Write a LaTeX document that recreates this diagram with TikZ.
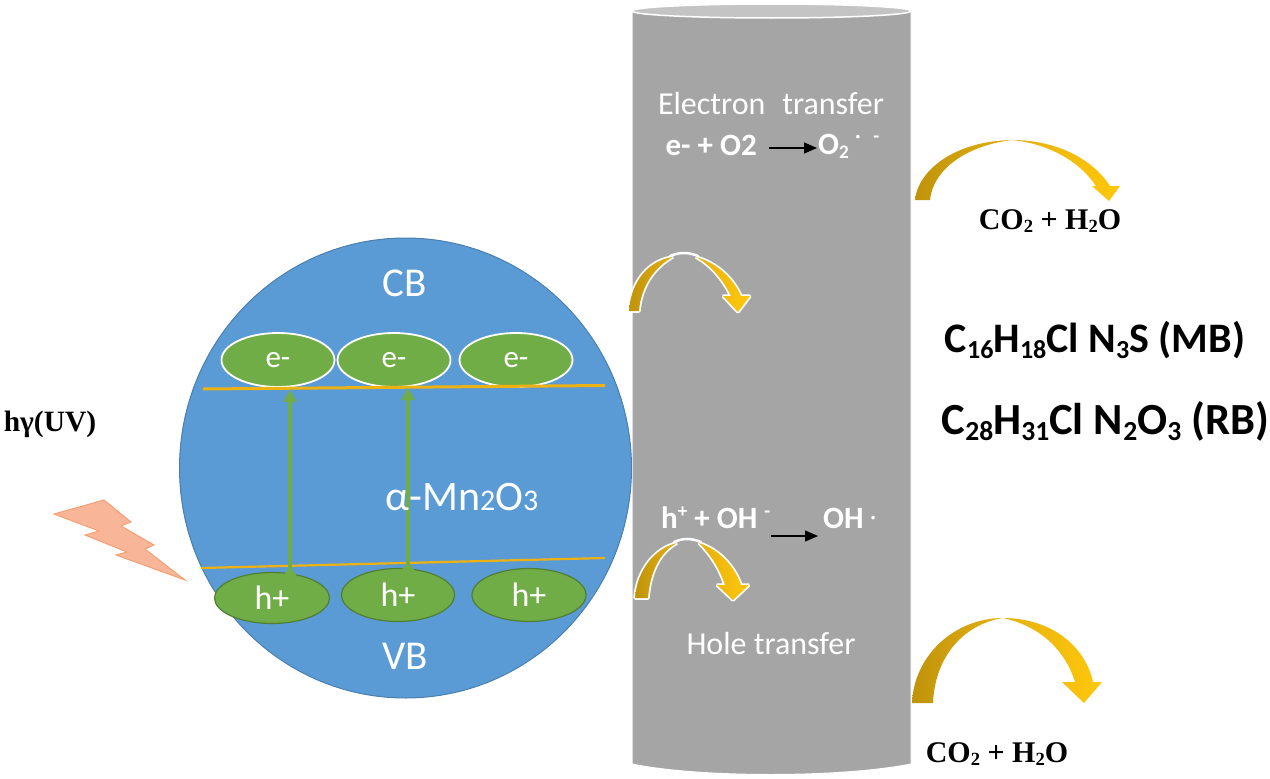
\documentclass[tikz,border=0pt]{standalone}
\usepackage{fontspec}
\setmainfont{Liberation Serif}
\setsansfont{Carlito}
\usetikzlibrary{arrows.meta,shapes.geometric}
\definecolor{ballblue}{HTML}{5B9BD5}
\definecolor{balledge}{HTML}{4A7FAE}
\definecolor{greenfill}{HTML}{70AD47}
\definecolor{greenedge}{HTML}{507E32}
\definecolor{bandline}{HTML}{EDB111}
\definecolor{tubegray}{HTML}{A5A5A5}
\definecolor{tubetop}{HTML}{C4C4C4}
\definecolor{golddark}{HTML}{BF930A}
\definecolor{goldmid}{HTML}{E5B012}
\definecolor{goldlight}{HTML}{FFC80A}
\definecolor{boltfill}{HTML}{F8B598}
\definecolor{boltedge}{HTML}{F4A074}
\newcommand{\subs}[1]{\raisebox{-0.28ex}{\scalebox{0.62}{#1}}}
\newcommand{\sups}[1]{\raisebox{0.75ex}{\scalebox{0.62}{#1}}}
\tikzset{
  x=1pt,y=-1pt,
  electron/.style={ellipse,draw=white,line width=1.8pt,fill=greenfill,text=white,inner sep=0pt,minimum width=113,minimum height=54,font=\sffamily\fontsize{31}{36}\selectfont},
  hole/.style={ellipse,draw=greenedge,line width=1.2pt,fill=greenfill,text=white,inner sep=0pt,font=\sffamily\fontsize{34}{40}\selectfont},
  whitelabel/.style={text=white,inner sep=0pt,font=\sffamily\fontsize{41}{48}\selectfont},
  graylabel/.style={text=white,inner sep=0pt,font=\sffamily\fontsize{32}{38}\selectfont},
  eqlabel/.style={text=white,inner sep=0pt,font=\sffamily\bfseries\fontsize{31}{36}\selectfont},
  product/.style={text=black,inner sep=0pt,font=\rmfamily\bfseries\fontsize{30}{34}\selectfont},
  formula/.style={text=black,inner sep=0pt,font=\sffamily\bfseries\fontsize{42}{48}\selectfont},
  bandtop/.style={draw=bandline,line width=3pt},
  bandlow/.style={draw=bandline,line width=2.2pt},
  excite/.style={draw=greenfill,line width=3.2pt,{Triangle[reversed,length=10pt,width=13pt]}-{Triangle[length=12pt,width=13pt]}},
  react/.style={draw=black,line width=1.2pt,-{Triangle[length=13pt,width=11pt]}},
  goldrise/.style={left color=golddark,right color=goldmid},
  goldfall/.style={left color=goldmid,right color=goldlight},
  rim/.style={preaction={draw=white,line width=3.5pt,line join=bevel}},
  rimtop/.style={draw=white,line width=2.5pt,line cap=round},
}
\begin{document}
\begin{tikzpicture}
\useasboundingbox (0,0) rectangle (1270,779);
% cylinder
\path[fill=tubegray,draw=white,line width=1pt] (632,11) -- (632,764) .. controls (700,778) and (840,778) .. (911,764) -- (911,11) -- cycle;
\path[fill=tubetop,draw=white,line width=1.5pt] (771.5,11) ellipse (139.5 and 7);
% ball
\node[ellipse,draw=balledge,line width=1pt,fill=ballblue,minimum width=452,minimum height=460,inner sep=0pt] (ball) at (405.5,468) {};
% bands
\coordinate (cbl) at (203,389); \coordinate (cbr) at (605,385.5);
\coordinate (vbl) at (201,568); \coordinate (vbr) at (605,558);
% carriers
\node[electron] (e1) at (278,360) {e-};
\node[electron] (e2) at (394,360) {e-};
\node[electron] (e3) at (516,360) {e-};
\draw[bandtop] (cbl) -- (cbr);
\draw[bandlow] (vbl) -- (vbr);
\node[hole,minimum width=115,minimum height=51] (h1) at (272,598) {h+};
\node[hole,minimum width=113,minimum height=53] (h2) at (398,595) {h+};
\node[hole,minimum width=114,minimum height=53] (h3) at (529,595) {h+};
\coordinate (a1s) at (290,576); \coordinate (a1e) at (290,390);
\coordinate (a2s) at (408,571); \coordinate (a2e) at (408,388);
\draw[excite] (a1s) -- (a1e);
\draw[excite] (a2s) -- (a2e);
\node[whitelabel] (cb) at (405,283) {CB};
\node[whitelabel] (vb) at (405,656) {VB};
\node[whitelabel,font=\sffamily\fontsize{42}{48}\selectfont] (mn) at (462,497) {α-Mn{\fontsize{30}{36}\selectfont 2}O{\fontsize{30}{36}\selectfont 3}};
% bolt
\path[fill=boltfill,draw=boltedge,line width=1pt,line join=miter] (54,514) -- (104,500) -- (131,522) -- (121,526) -- (154,545) -- (145,549) -- (185,580) -- (116,555) -- (127,552) -- (85,535) -- (99,531) -- cycle;
\node[text=black,inner sep=0pt,font=\rmfamily\bfseries\fontsize{29.5}{34}\selectfont] (hv) at (50,424) {hγ(UV)};
% cylinder text
\node[graylabel] (et) at (771,104) {Electron\hspace{0.3em} transfer};
\node[eqlabel,anchor=east] (eq1) at (757,145) {e- + O2};
\node[eqlabel,anchor=west] (eq2) at (818,146) {O\subs{2}\sups{\,\,·\,\,\,\,-}};
\coordinate (r1s) at (769,148); \coordinate (r1e) at (817,148);
\draw[react] (r1s) -- (r1e);
\node[eqlabel,anchor=west] (eq3) at (661,518) {h\sups{+} + OH \sups{-}};
\node[eqlabel,anchor=west] (eq4) at (823,518) {OH \raisebox{0.3ex}{\scalebox{0.62}{·}}};
\coordinate (r2s) at (771,536); \coordinate (r2e) at (818,536);
\draw[react] (r2s) -- (r2e);
\node[graylabel] (ht) at (771,644) {Hole transfer};
% curved arrows: rising dark part, then falling light part with its head
\path[goldrise,rim] (629,311) .. controls (631,280) and (650,260) .. (673,257)
  .. controls (656,266) and (641,285) .. (639,311) -- cycle;
\path[goldfall,rim] (696,257) .. controls (717,263) and (733,278) .. (741,296) -- (750,296) -- (738,312) -- (723,296) -- (731,296)
  .. controls (723,280) and (712,266) .. (696,257) -- cycle;
\path[rimtop] (670,256) .. controls (680,252) and (688,252) .. (698,256);
\path[goldrise,rim] (635,598) .. controls (637,570) and (655,548) .. (677,543)
  .. controls (660,552) and (650,572) .. (648,598) -- cycle;
\path[goldfall,rim] (699,543) .. controls (718,549) and (734,565) .. (741,585) -- (749,585) -- (733,600) -- (717,585) -- (725,585)
  .. controls (720,570) and (712,556) .. (699,543) -- cycle;
\path[rimtop] (674,542) .. controls (683,538) and (691,538) .. (701,542);
\path[goldrise] (915,200) .. controls (918,170) and (955,141) .. (1012,140)
  .. controls (965,146) and (933,170) .. (930,200) -- cycle;
\path[goldfall] (1012,140) .. controls (1055,140) and (1092,158) .. (1110,186) -- (1120,186) -- (1109,201) -- (1092,186) -- (1096,186)
  .. controls (1080,162) and (1050,144) .. (1012,140) -- cycle;
\path[goldrise] (912,703) .. controls (914,655) and (955,618) .. (1003,618)
  .. controls (965,624) and (935,655) .. (933,703) -- cycle;
\path[goldfall] (1003,618) .. controls (1050,618) and (1085,645) .. (1093,682) -- (1102,682) -- (1084,703) -- (1062,682) -- (1075,682)
  .. controls (1065,650) and (1040,626) .. (1003,618) -- cycle;
% products
\node[product] (p1) at (1050,221) {CO\subs{2} + H\subs{2}O};
\node[product] (p2) at (997,754) {CO\subs{2} + H\subs{2}O};
\node[formula] (mb) at (1095,340) {C\subs{16}H\subs{18}Cl N\subs{3}S (MB)};
\node[formula,font=\sffamily\bfseries\fontsize{44.5}{50}\selectfont] (rb) at (1105.5,421) {C\subs{28}H\subs{31}Cl N\subs{2}O\subs{3} (RB)};
\end{tikzpicture}
\end{document}
